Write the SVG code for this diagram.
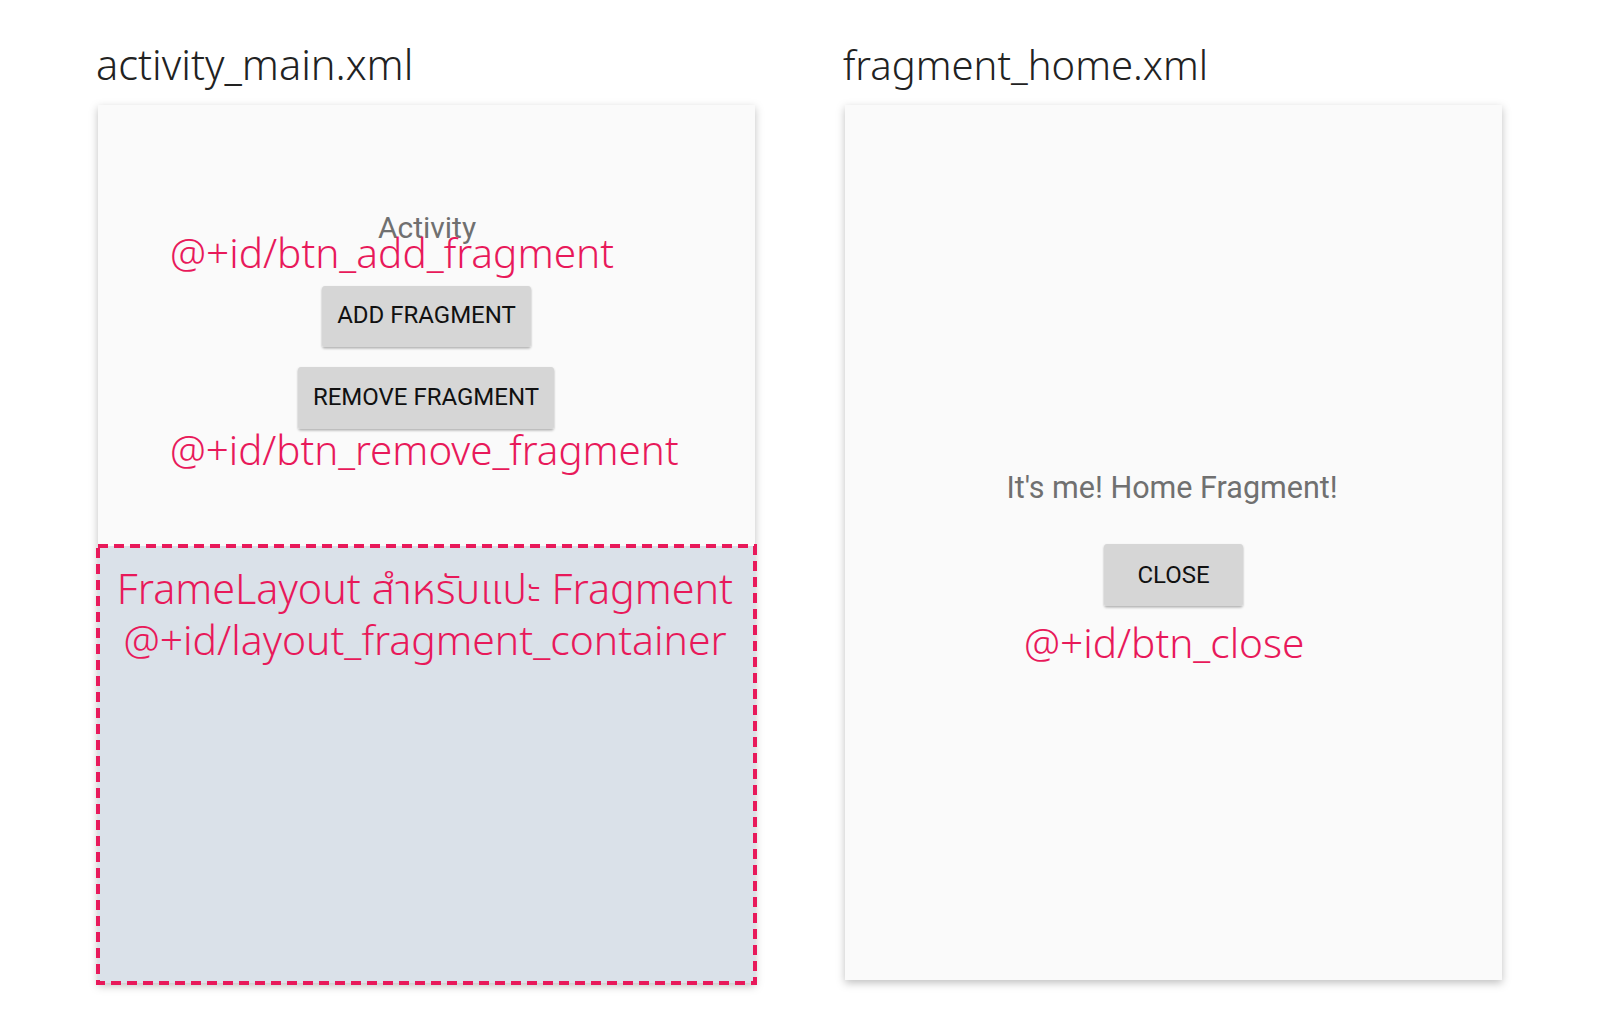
<svg xmlns="http://www.w3.org/2000/svg" width="1600" height="1019" viewBox="0 0 1600 1019">
<defs>
<filter id="sh" x="-5%" y="-5%" width="110%" height="110%">
<feDropShadow dx="0" dy="3" stdDeviation="4" flood-color="#000" flood-opacity="0.25"/>
</filter>
<filter id="bsh" x="-10%" y="-10%" width="120%" height="130%">
<feDropShadow dx="0" dy="1.5" stdDeviation="1" flood-color="#000" flood-opacity="0.3"/>
</filter>
<style>
.title{font-family:"Noto Sans","Open Sans",sans-serif;font-size:40.5px;fill:#222;font-weight:300}
.pink{font-family:"Noto Sans","Noto Sans Thai","Open Sans",sans-serif;font-size:40.6px;fill:#E8195A;font-weight:300}
.gray{font-family:Roboto,"Liberation Sans",sans-serif;font-size:30.5px;fill:#707070}
.btxt{font-family:Roboto,"Liberation Sans",sans-serif;font-size:24px;fill:#111;font-weight:400;text-anchor:middle}
.btn{fill:#D6D6D6}
.panel{fill:#FAFAFA}
</style>
</defs>
<rect width="1600" height="1019" fill="#FFFFFF"/>
<g id="title-activity"><text class="title" x="96" y="80" style="font-size:41.5px">activity_main.xml</text></g>
<g id="title-fragment"><text class="title" x="843" y="80" style="font-size:40px">fragment_home.xml</text></g>

<g id="activity-panel">
<rect class="panel" x="98" y="105" width="657" height="878" filter="url(#sh)"/>
<text class="gray" x="427" y="238" text-anchor="middle" style="font-size:30px">Activity</text>
</g>
<g id="btn-add">
<rect class="btn" x="322" y="286" width="209" height="61" rx="3" filter="url(#bsh)"/>
<text class="btxt" x="426.5" y="323">ADD FRAGMENT</text>
</g>
<g id="label-add"><text class="pink" x="170" y="268">@+id/btn_add_fragment</text></g>
<g id="btn-remove">
<rect class="btn" x="298" y="367" width="256" height="62" rx="3" filter="url(#bsh)"/>
<text class="btxt" x="426" y="405">REMOVE FRAGMENT</text>
</g>
<g id="label-remove"><text class="pink" x="170" y="465" style="font-size:40.3px">@+id/btn_remove_fragment</text></g>
<g id="frame-container">
<rect x="98" y="546" width="657" height="437" fill="#DAE1E9" stroke="#E8195A" stroke-width="4" stroke-dasharray="10 6"/>
<text class="pink" x="425" y="604" text-anchor="middle" style="font-size:41.3px">FrameLayout สำหรับแปะ Fragment</text>
<text class="pink" x="425" y="655" text-anchor="middle" style="font-size:40.9px">@+id/layout_fragment_container</text>
</g>

<g id="fragment-panel">
<rect class="panel" x="845" y="105" width="657" height="875" filter="url(#sh)"/>
<text class="gray" x="1172" y="498" text-anchor="middle">It's me! Home Fragment!</text>
</g>
<g id="btn-close">
<rect class="btn" x="1104" y="544" width="139" height="62" rx="3" filter="url(#bsh)"/>
<text class="btxt" x="1173.5" y="583">CLOSE</text>
</g>
<g id="label-close"><text class="pink" x="1024" y="658">@+id/btn_close</text></g>
<g id="connectors"/>
</svg>
